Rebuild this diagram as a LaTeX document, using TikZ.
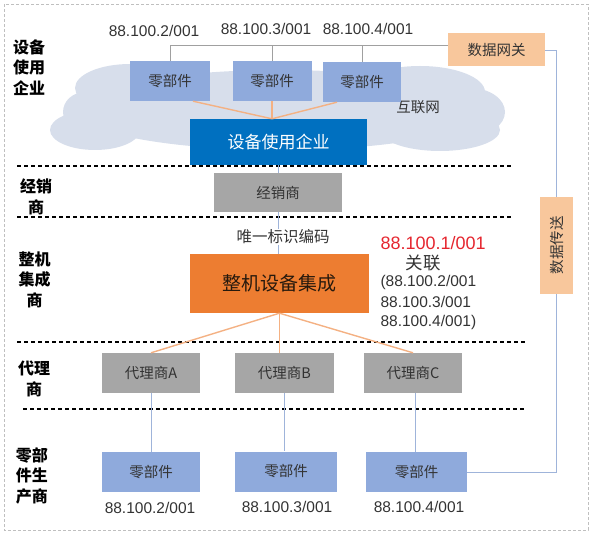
\documentclass[tikz,border=0pt]{standalone}
\usepackage{fontspec}
\setmainfont{Liberation Sans}
\newfontfamily\cjk{Noto Sans CJK SC}
\usetikzlibrary{positioning}
\definecolor{partblue}{HTML}{8FAADC}
\definecolor{cloudblue}{HTML}{D7DEEB}
\definecolor{entblue}{HTML}{0070C0}
\definecolor{boxgray}{HTML}{A6A6A6}
\definecolor{boxorange}{HTML}{ED7D31}
\definecolor{peach}{HTML}{F8C79C}
\definecolor{lineorange}{HTML}{F4B183}
\definecolor{lineblue}{HTML}{9FB4DA}
\definecolor{linegray}{HTML}{A0A0A0}
\definecolor{textdark}{HTML}{333333}
\definecolor{idred}{HTML}{E5262F}

\begin{document}
\begin{tikzpicture}[x=1pt, y=-1pt,
    box/.style={inner sep=0pt, text=textdark, font=\cjk\fontsize{14.5}{17}\selectfont},
    partbox/.style={box, fill=partblue, minimum width=80pt, minimum height=40pt},
    graybox/.style={box, fill=boxgray, minimum width=98pt, minimum height=40pt},
    peachbox/.style={box, fill=peach},
    tier/.style={align=center, font=\cjk\bfseries\fontsize{16}{20.5}\selectfont},
    idcode/.style={font=\fontsize{15.5}{18}\selectfont, text=textdark},
    sepline/.style={dashed, dash pattern=on 4pt off 3pt, line width=1.1pt},
    orangelink/.style={lineorange, line width=1.4pt},
    thinlink/.style={line width=0.9pt}]
    \useasboundingbox (0,0) rectangle (591,534);
    \draw[gray!50, dash pattern=on 3pt off 2pt, line width=0.7pt] (4,4) rectangle (588,530);

    % Cloud behind the enterprise level
    \fill[cloudblue] (280,110) ellipse [x radius=205, y radius=40];
    \fill[cloudblue] (130,88) ellipse [x radius=55, y radius=24];
    \fill[cloudblue] (420,92) ellipse [x radius=65, y radius=26];
    \fill[cloudblue] (95,130) ellipse [x radius=45, y radius=20];
    \fill[cloudblue] (440,130) ellipse [x radius=60, y radius=21];
    \fill[cloudblue] (470,112) ellipse [x radius=35, y radius=24];
    \fill[cloudblue] (85,112) ellipse [x radius=22, y radius=20];
    \node[box] (net) at (418,107) {互联网};

    % Tier labels on the left
    \node[tier] (t1) at (29,67.5) {设备\\使用\\企业};
    \node[tier] (t2) at (36,197) {经销\\商};
    \node[tier] (t3) at (34.5,279.5) {整机\\集成\\商};
    \node[tier] (t4) at (34,379) {代理\\商};
    \node[tier] (t5) at (32,475.5) {零部\\件生\\产商};

    % Level separators
    \draw[sepline] (17,166) -- (511,166);
    \draw[sepline] (17,217) -- (511,217);
    \draw[sepline] (17,342) -- (526,342);
    \draw[sepline] (23,409) -- (525,409);

    % Parts at the user enterprise
    \node[partbox] (p1) at (170,81) {零部件};
    \node[partbox, minimum width=79pt] (p2) at (272,81) {零部件};
    \node[partbox, minimum width=78pt] (p3) at (362,82) {零部件};
    \node[idcode] (l1) at (154,31) {88.100.2/001};
    \node[idcode] (l2) at (266,29) {88.100.3/001};
    \node[idcode] (l3) at (368,29) {88.100.4/001};
    \node[peachbox, minimum width=97pt, minimum height=33pt] (gw) at (496.5,50) {数据网关};
    \coordinate (bus) at ([yshift=5pt]gw.west);
    \draw[linegray, thinlink] (p1.north) |- (bus);
    \draw[linegray, thinlink] (p2.north) -- (p2.north |- bus);
    \draw[linegray, thinlink] (p3.north) -- (p3.north |- bus);

    \node[box, fill=entblue, text=white, minimum width=177pt, minimum height=46pt,
      font=\cjk\fontsize{17}{20}\selectfont] (ent) at (278.5,142) {设备使用企业};
    \coordinate (hub) at (p2.south |- ent.north);
    \draw[orangelink] ([xshift=23pt]p1.south) -- (hub);
    \draw[orangelink] (p2.south) -- (hub);
    \draw[orangelink] ([xshift=-25pt]p3.south) -- (hub);

    % Dealer and integrator
    \node[graybox, minimum width=128pt, minimum height=39pt] (dl) at (278,192.5) {经销商};
    \node[box, fill=boxorange, text=black!80!brown, minimum width=179pt, minimum height=59pt,
      font=\cjk\fontsize{19}{22}\selectfont] (ig) at (279.5,283.5) {整机设备集成};
    \draw[lineblue, thinlink] (ent.south -| dl.north) -- (dl.north);
    \draw[lineblue, thinlink] (dl.south) -- (dl.south |- ig.north);
    \node[box, fill=white, inner sep=1pt, font=\cjk\fontsize{15.5}{18}\selectfont] (uid) at (283,237) {唯一标识编码};

    \node[idcode, text=idred, font=\fontsize{18}{20}\selectfont, anchor=west] (rid) at (377,243) {88.100.1/001};
    \node[box, font=\cjk\fontsize{17.5}{20}\selectfont] (rel) at (423,263) {关联};
    \node[idcode, anchor=west] (r2) at (377,282) {(88.100.2/001};
    \node[idcode, anchor=west] (r3) at (377,302) {88.100.3/001};
    \node[idcode, anchor=west] (r4) at (377,322) {88.100.4/001)};

    % Agents
    \node[graybox] (aA) at (151,373) {代理商A};
    \node[graybox, minimum width=99pt] (aB) at (284.5,373) {代理商B};
    \node[graybox] (aC) at (413,373) {代理商C};
    \draw[orangelink] (ig.south) -- (aA.north);
    \draw[orangelink] (ig.south) -- (ig.south |- aB.north);
    \draw[orangelink] (ig.south) -- (aC.north);

    % Part makers
    \node[partbox, minimum width=98pt] (q1) at (151,472) {零部件};
    \node[partbox, minimum width=102pt] (q2) at (286,471.5) {零部件};
    \node[partbox, minimum width=101pt] (q3) at (416.5,472) {零部件};
    \draw[lineblue, thinlink] (aA.south) -- (aA.south |- q1.north);
    \draw[lineblue, thinlink] (aB.south) -- (aB.south |- q2.north);
    \draw[lineblue, thinlink] ([xshift=2pt]aC.south) -- ([xshift=2pt]aC.south |- q3.north);
    \node[idcode] (b1) at (150,508) {88.100.2/001};
    \node[idcode] (b2) at (287,507) {88.100.3/001};
    \node[idcode] (b3) at (419,507) {88.100.4/001};

    % Data transfer back to the gateway
    \node[peachbox, rotate=90, minimum width=97pt, minimum height=33pt] (ds) at (556.5,245.5) {数据传送};
    \draw[lineblue, thinlink] (gw.east) -| (ds.east);
    \draw[lineblue, thinlink] (ds.west) |- (q3.east);
\end{tikzpicture}
\end{document}
